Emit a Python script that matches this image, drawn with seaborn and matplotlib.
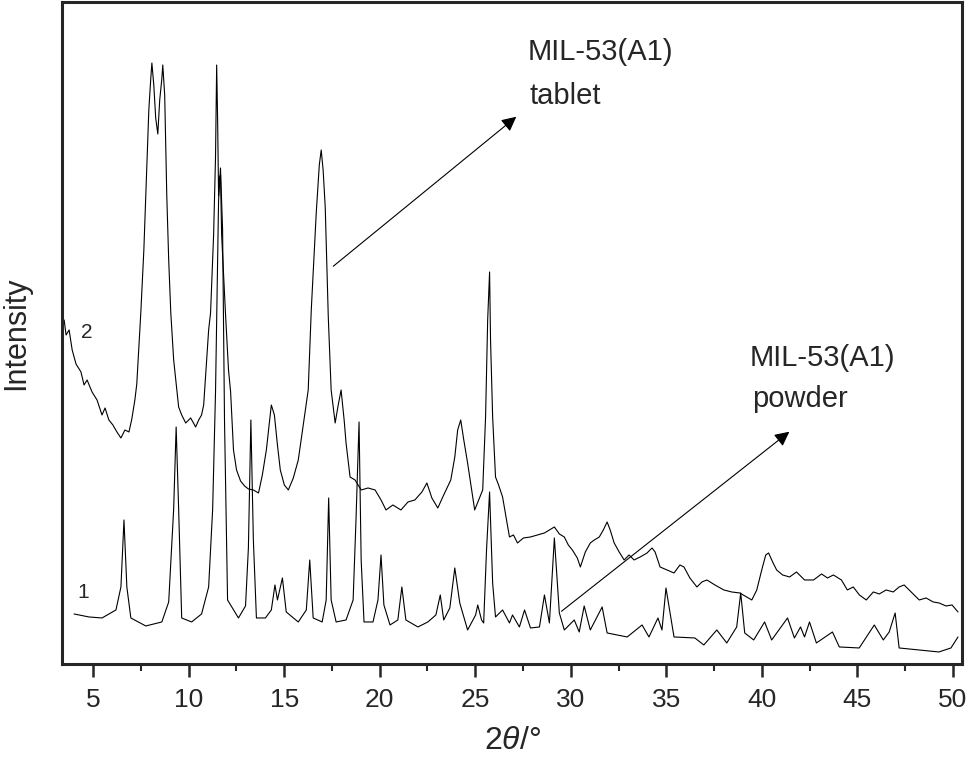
import pandas as pd
import matplotlib
matplotlib.use('Agg')
import matplotlib.pyplot as plt
import seaborn as sns
from matplotlib.ticker import MultipleLocator

# Curve 1: MIL-53(Al) powder (2theta in degrees, intensity in a.u.)
powder_theta = [4.01, 4.79, 5.47, 5.83, 6.20, 6.46, 6.62, 6.77, 6.98, 7.76,
                8.60, 8.96, 9.22, 9.35, 9.48, 9.64, 10.16, 10.68, 11.05, 11.26,
                11.41, 11.57, 11.67, 11.78, 11.88, 12.04, 12.61, 12.98, 13.13, 13.26,
                13.39, 13.55, 14.02, 14.33, 14.52, 14.65, 14.91, 15.11, 15.74, 16.16,
                16.34, 16.52, 16.99, 17.20, 17.33, 17.46, 17.72, 18.24, 18.61, 18.76,
                18.92, 19.03, 19.18, 19.65, 19.91, 20.07, 20.22, 20.54, 20.95, 21.16,
                21.37, 22.00, 22.52, 22.94, 23.17, 23.35, 23.67, 23.93, 24.19, 24.60,
                25.02, 25.13, 25.33, 25.44, 25.59, 25.75, 25.91, 26.06, 26.43, 26.79,
                26.95, 27.31, 27.58, 27.89, 28.36, 28.62, 28.88, 29.14, 29.40, 29.66,
                30.18, 30.44, 30.70, 31.02, 31.64, 31.90, 32.95, 33.73, 34.09, 34.56,
                34.77, 34.98, 35.40, 36.49, 36.96, 37.64, 38.16, 38.68, 38.89, 39.10,
                39.57, 40.14, 40.51, 41.34, 41.70, 42.02, 42.23, 42.49, 42.85, 43.69,
                44.05, 45.09, 45.88, 46.35, 46.66, 46.97, 47.18, 48.22, 49.26, 49.89,
                50.26]
powder_int = [50, 47, 46, 50, 54, 77, 144, 77, 46, 38,
              42, 62, 155, 237, 155, 46, 42, 50, 77, 155,
              272, 464, 496, 434, 244, 64, 46, 58, 116, 244,
              124, 46, 46, 54, 79, 64, 86, 52, 42, 54,
              104, 46, 42, 64, 166, 64, 42, 44, 64, 144,
              242, 104, 42, 42, 64, 109, 59, 39, 44, 77,
              44, 37, 42, 49, 69, 44, 56, 96, 61, 34,
              49, 59, 44, 41, 114, 172, 81, 47, 54, 41,
              49, 37, 54, 36, 37, 69, 41, 126, 51, 34,
              44, 32, 58, 34, 57, 31, 27, 39, 27, 46,
              34, 76, 27, 26, 19, 34, 21, 37, 71, 31,
              24, 42, 24, 46, 26, 37, 27, 42, 21, 32,
              17, 16, 39, 24, 32, 51, 16, 14, 12, 16,
              27]

# Curve 2: MIL-53(Al) tablet
tablet_theta = [3.49, 3.59, 3.75, 3.91, 4.11, 4.37, 4.53, 4.69, 4.95, 5.21,
                5.47, 5.63, 5.83, 6.04, 6.25, 6.46, 6.67, 6.88, 7.03, 7.19,
                7.29, 7.50, 7.66, 7.76, 7.92, 8.02, 8.08, 8.18, 8.28, 8.39,
                8.49, 8.60, 8.65, 8.75, 8.86, 8.96, 9.07, 9.22, 9.33, 9.48,
                9.64, 9.85, 10.11, 10.37, 10.53, 10.68, 10.79, 10.89, 11.05, 11.15,
                11.31, 11.41, 11.47, 11.52, 11.57, 11.62, 11.67, 11.73, 11.83, 11.93,
                12.09, 12.20, 12.35, 12.51, 12.72, 12.93, 13.13, 13.39, 13.66, 13.86,
                14.07, 14.33, 14.49, 14.65, 14.80, 15.01, 15.22, 15.48, 15.74, 16.00,
                16.26, 16.42, 16.58, 16.68, 16.84, 16.94, 17.04, 17.15, 17.31, 17.46,
                17.67, 17.83, 17.98, 18.14, 18.24, 18.45, 18.71, 19.03, 19.39, 19.76,
                20.07, 20.33, 20.69, 21.11, 21.48, 21.84, 22.21, 22.47, 22.73, 23.04,
                23.35, 23.72, 23.93, 24.08, 24.24, 24.40, 24.60, 24.81, 24.97, 25.18,
                25.39, 25.54, 25.65, 25.75, 25.80, 25.91, 26.06, 26.22, 26.43, 26.59,
                26.79, 27.00, 27.21, 27.52, 27.89, 28.25, 28.62, 28.88, 29.14, 29.40,
                29.66, 29.87, 30.08, 30.34, 30.50, 30.76, 31.02, 31.23, 31.49, 31.70,
                31.90, 32.06, 32.27, 32.53, 32.79, 33.05, 33.31, 33.63, 33.99, 34.25,
                34.41, 34.67, 35.03, 35.40, 35.71, 35.92, 36.23, 36.60, 36.86, 37.12,
                37.54, 38.01, 38.42, 38.84, 39.20, 39.47, 39.73, 39.99, 40.20, 40.35,
                40.56, 40.77, 41.08, 41.45, 41.81, 42.23, 42.70, 43.12, 43.43, 43.74,
                44.16, 44.47, 44.78, 45.10, 45.46, 45.83, 46.14, 46.50, 46.87, 47.18,
                47.44, 47.81, 48.23, 48.59, 48.96, 49.27, 49.63, 49.95, 50.26]
tablet_int = [344, 329, 334, 314, 300, 292, 279, 284, 272, 264,
              249, 256, 244, 239, 232, 226, 234, 232, 245, 264,
              280, 351, 414, 468, 554, 585, 601, 579, 546, 530,
              564, 585, 599, 569, 468, 404, 351, 304, 284, 257,
              249, 241, 246, 237, 244, 249, 259, 288, 334, 351,
              429, 507, 599, 544, 468, 487, 489, 429, 389, 351,
              294, 272, 214, 194, 183, 178, 175, 174, 171, 189,
              214, 259, 249, 219, 194, 179, 174, 186, 204, 239,
              274, 354, 414, 451, 499, 514, 494, 457, 347, 274,
              241, 259, 274, 244, 221, 187, 184, 174, 176, 174,
              164, 154, 159, 154, 162, 164, 172, 181, 166, 156,
              169, 184, 207, 234, 244, 224, 201, 174, 154, 164,
              174, 247, 344, 392, 324, 247, 187, 179, 167, 149,
              127, 129, 121, 126, 127, 129, 131, 134, 137, 130,
              127, 119, 114, 106, 97, 112, 121, 124, 127, 134,
              142, 134, 121, 112, 104, 109, 104, 107, 111, 116,
              112, 97, 94, 91, 99, 97, 86, 77, 82, 84,
              79, 74, 72, 71, 67, 64, 74, 94, 109, 111,
              102, 94, 89, 87, 92, 84, 84, 90, 86, 89,
              84, 74, 77, 69, 64, 72, 70, 74, 72, 77,
              79, 72, 64, 66, 62, 61, 58, 59, 52]

df = pd.concat([
    pd.DataFrame({'two_theta': powder_theta, 'intensity': powder_int, 'sample': 'powder'}),
    pd.DataFrame({'two_theta': tablet_theta, 'intensity': tablet_int, 'sample': 'tablet'}),
])

sns.set_style('ticks')
plt.rcParams['font.family'] = ['Liberation Sans', 'DejaVu Sans']
plt.rcParams['mathtext.fontset'] = 'custom'
plt.rcParams['mathtext.it'] = 'Liberation Sans:italic'

fig = plt.figure(figsize=(9.69, 7.70), dpi=100)
ax = fig.add_axes([0.064, 0.1377, 0.9288, 0.8597])

sns.lineplot(data=df, x='two_theta', y='intensity', units='sample',
             estimator=None, sort=False, color='black', lw=0.8, ax=ax)

ax.set_xlim(3.378, 50.47)
ax.set_ylim(0, 662)
ax.xaxis.set_major_locator(MultipleLocator(5))
ax.xaxis.set_minor_locator(MultipleLocator(2.5))
ax.set_yticks([])
ax.tick_params(axis='x', which='major', length=9.5, width=1.8, labelsize=19, pad=8, direction='out')
ax.tick_params(axis='x', which='minor', length=5, width=1.5, direction='out')
for s in ax.spines.values():
    s.set_linewidth(2.2)
    s.set_visible(True)

ax.set_xlabel(r'2$\it{\theta}$/°', fontsize=23, labelpad=10)
ax.set_ylabel('Intensity', fontsize=22, labelpad=22)

# curve labels
ax.text(4.17, 66, '1', fontsize=15, ha='left', va='baseline')
ax.text(4.37, 326, '2', fontsize=15, ha='left', va='baseline')

# annotations
ax.text(27.73, 604, 'MIL-53(A1)', fontsize=21, ha='left', va='baseline')
ax.text(27.83, 560, 'tablet', fontsize=21, ha='left', va='baseline')
ax.annotate('', xy=(27.26, 549), xytext=(17.46, 396),
            arrowprops=dict(arrowstyle='-|>', mutation_scale=22, lw=0.8, color='black'))

ax.text(39.36, 298, 'MIL-53(A1)', fontsize=21, ha='left', va='baseline')
ax.text(39.46, 257, 'powder', fontsize=21, ha='left', va='baseline')
ax.annotate('', xy=(41.55, 234), xytext=(29.40, 51),
            arrowprops=dict(arrowstyle='-|>', mutation_scale=22, lw=0.8, color='black'))

plt.savefig('out.png', dpi=100)
